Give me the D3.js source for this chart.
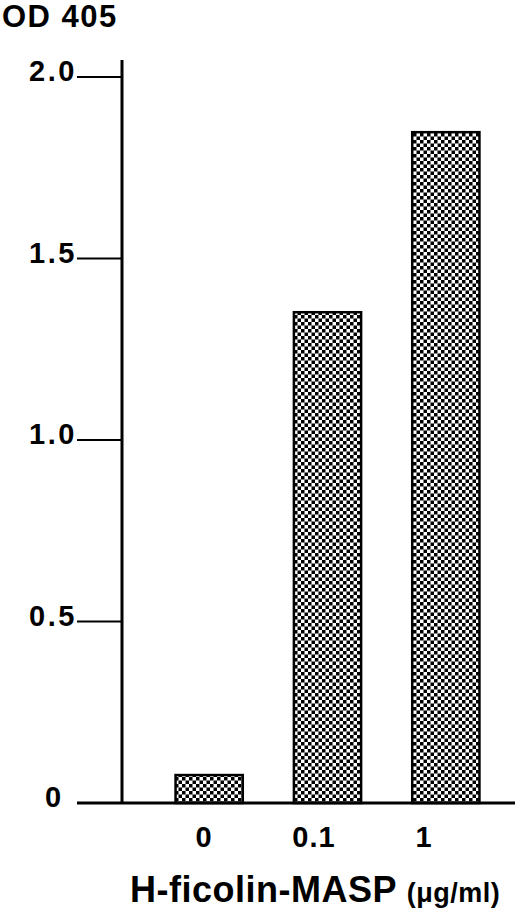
<!DOCTYPE html>
<html>
<head>
<meta charset="utf-8">
<script src="https://cdn.jsdelivr.net/npm/d3@7"></script>
<style>
  body { margin: 0; background: #fff; }
  text { font-family: "Liberation Sans", Arial, Helvetica, sans-serif; font-weight: bold; fill: #000; }
</style>
</head>
<body>
<div id="chart"></div>
<script>
// data
let doses = ["0", "0.1", "1"];
let od405 = [0.077, 1.352, 1.848];
let yTicks = [0, 0.5, 1.0, 1.5, 2.0];
let yTickLabels = ["0", "0.5", "1.0", "1.5", "2.0"];

let width = 520, height = 920;

let svg = d3.select("#chart")
	.append("svg")
	.attr("width", width)
	.attr("height", height);

// checkered fill like the original print
let pat = svg.append("defs").append("pattern")
	.attr("id", "checker")
	.attr("patternUnits", "userSpaceOnUse")
	.attr("width", 7)
	.attr("height", 7);
pat.append("rect").attr("width", 7).attr("height", 7).attr("fill", "#fff");
pat.append("rect").attr("width", 3.5).attr("height", 3.5).attr("fill", "#000");
pat.append("rect").attr("x", 3.5).attr("y", 3.5).attr("width", 3.5).attr("height", 3.5).attr("fill", "#000");

let axisX = 122;
let yScale = d3.scaleLinear().domain([0, 2]).range([803, 77]);
let xScale = d3.scaleBand().domain(doses).range([150, 505])
	.paddingInner(0.432).paddingOuter(0.216);
// tick labels sit a little left of the bar centres in the original
let xLabel = d3.scalePoint().domain(doses).range([204, 424]);

// y tick lines and labels
svg.selectAll(".ytick")
	.data(yTicks)
	.enter().append("line")
	.attr("x1", 77).attr("x2", axisX)
	.attr("y1", d => yScale(d)).attr("y2", d => yScale(d))
	.attr("stroke", "#000").attr("stroke-width", 2);

svg.selectAll(".ylab")
	.data(yTicks)
	.enter().append("text")
	.attr("x", 53)
	.attr("y", d => yScale(d) + 4)
	.attr("text-anchor", "middle")
	.style("font-size", "29px")
	.style("letter-spacing", (d, i) => yTickLabels[i].length > 1 ? "2.5px" : "0px")
	.text((d, i) => yTickLabels[i]);

// bars
svg.selectAll(".bar")
	.data(doses)
	.enter().append("rect")
	.attr("x", d => xScale(d))
	.attr("y", (d, i) => yScale(od405[i]))
	.attr("width", xScale.bandwidth())
	.attr("height", (d, i) => yScale(0) - yScale(od405[i]))
	.attr("fill", "url(#checker)")
	.attr("stroke", "#000")
	.attr("stroke-width", 2.5);

// axis line and baseline
svg.append("line")
	.attr("x1", axisX).attr("x2", axisX)
	.attr("y1", 60).attr("y2", yScale(0))
	.attr("stroke", "#000").attr("stroke-width", 3);
svg.append("line")
	.attr("x1", 77).attr("x2", 515)
	.attr("y1", yScale(0)).attr("y2", yScale(0))
	.attr("stroke", "#000").attr("stroke-width", 3);

// x labels
svg.selectAll(".xlab")
	.data(doses)
	.enter().append("text")
	.attr("x", d => xLabel(d))
	.attr("y", 847)
	.attr("text-anchor", "middle")
	.style("font-size", "29px")
	.style("letter-spacing", "1px")
	.text(d => d);

// titles
svg.append("text")
	.attr("x", 2)
	.attr("y", 27)
	.style("font-size", "31px")
	.style("letter-spacing", "1.5px")
	.text("OD 405");

let xt = svg.append("text")
	.attr("x", 130)
	.attr("y", 902)
	.style("font-size", "36px")
	.style("letter-spacing", "0.5px");
xt.append("tspan").text("H-ficolin-MASP ");
xt.append("tspan").style("font-size", "27px").text("(μg/ml)");
</script>
</body>
</html>
